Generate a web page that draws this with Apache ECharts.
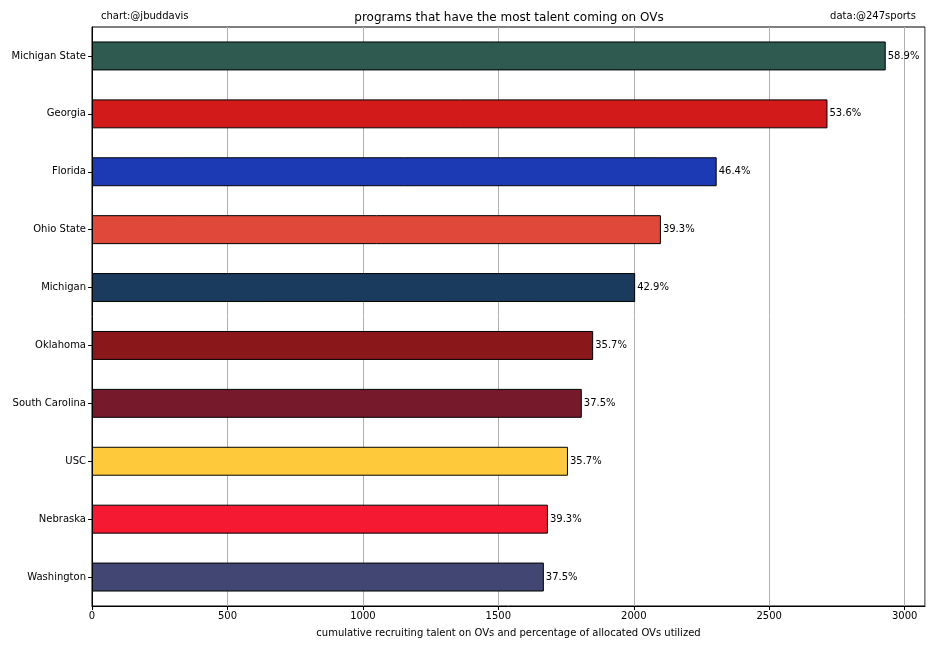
<!DOCTYPE html>
<html>
<head>
<meta charset="utf-8">
<title>programs that have the most talent coming on OVs</title>
<script src="https://cdn.jsdelivr.net/npm/echarts@6/dist/echarts.min.js"></script>
<style>
  html, body { margin: 0; padding: 0; background: #fff; }
  #chart { width: 936px; height: 648px; }
</style>
</head>
<body>
<div id="chart"></div>
<script>
// teams, top to bottom
var teams = ['Michigan State', 'Georgia', 'Florida', 'Ohio State', 'Michigan',
  'Oklahoma', 'South Carolina', 'USC', 'Nebraska', 'Washington'];
// cumulative talent on OVs
var talent = [2930, 2715, 2306, 2100, 2005, 1850, 1808, 1757, 1683, 1668];
// percentage of allocated OVs utilized
var pctUsed = ['58.9%', '53.6%', '46.4%', '39.3%', '42.9%', '35.7%', '37.5%', '35.7%', '39.3%', '37.5%'];
var teamColors = ['#2f5a4f', '#d31a1a', '#1c3ab4', '#e04939', '#1a3a5e',
  '#8a181a', '#76192b', '#ffc93c', '#f51a32', '#414673'];
var xTicks = [0, 500, 1000, 1500, 2000, 2500, 3000];

var font = 'DejaVu Sans';
var chart = echarts.init(document.getElementById('chart'));

var option = {
  backgroundColor: '#fff',
  animation: false,
  textStyle: { fontFamily: font },
  title: [
    {
      text: 'programs that have the most talent coming on OVs',
      left: 504, top: 7, textAlign: 'center',
      textStyle: { fontFamily: font, fontSize: 12, fontWeight: 'normal', color: '#000' }
    },
    {
      text: 'chart:@jbuddavis',
      left: 96, top: 6,
      textStyle: { fontFamily: font, fontSize: 10, fontWeight: 'normal', color: '#000' }
    },
    {
      text: 'data:@247sports',
      right: 15, top: 6,
      textStyle: { fontFamily: font, fontSize: 10, fontWeight: 'normal', color: '#000' }
    }
  ],
  grid: {
    left: 92, right: 11, top: 27, bottom: 42,
    show: true, borderColor: '#000', borderWidth: 1,
    containLabel: false
  },
  xAxis: {
    type: 'value',
    min: 0,
    max: 3075,
    interval: 500,
    name: 'cumulative recruiting talent on OVs and percentage of allocated OVs utilized',
    nameLocation: 'middle',
    nameGap: 22,
    nameTextStyle: { fontFamily: font, fontSize: 10, color: '#000' },
    axisLine: { show: true, lineStyle: { color: '#000', width: 1 } },
    axisTick: { show: true, inside: false, length: 4, lineStyle: { color: '#000' } },
    axisLabel: {
      fontFamily: font, fontSize: 10, color: '#000', margin: 5,
      showMaxLabel: false,
      formatter: function (v) { return xTicks.indexOf(v) >= 0 ? String(v) : ''; }
    },
    splitLine: { show: true, lineStyle: { color: '#b0b0b0', width: 1 } }
  },
  yAxis: {
    type: 'category',
    data: teams,
    inverse: true,
    axisLine: { show: true, lineStyle: { color: '#000', width: 1 } },
    axisTick: { show: true, alignWithLabel: true, length: 4, lineStyle: { color: '#000' } },
    axisLabel: { fontFamily: font, fontSize: 10, color: '#000', margin: 6 },
    splitLine: { show: false }
  },
  series: [{
    type: 'bar',
    barWidth: '50%',
    data: talent.map(function (v, i) {
      return { value: v, itemStyle: { color: teamColors[i] } };
    }),
    itemStyle: { borderColor: '#000', borderWidth: 1 },
    label: {
      show: true,
      position: 'right',
      distance: 2,
      fontFamily: font,
      fontSize: 10,
      color: '#000',
      formatter: function (p) { return pctUsed[p.dataIndex]; }
    }
  }]
};

chart.setOption(option);
</script>
</body>
</html>
